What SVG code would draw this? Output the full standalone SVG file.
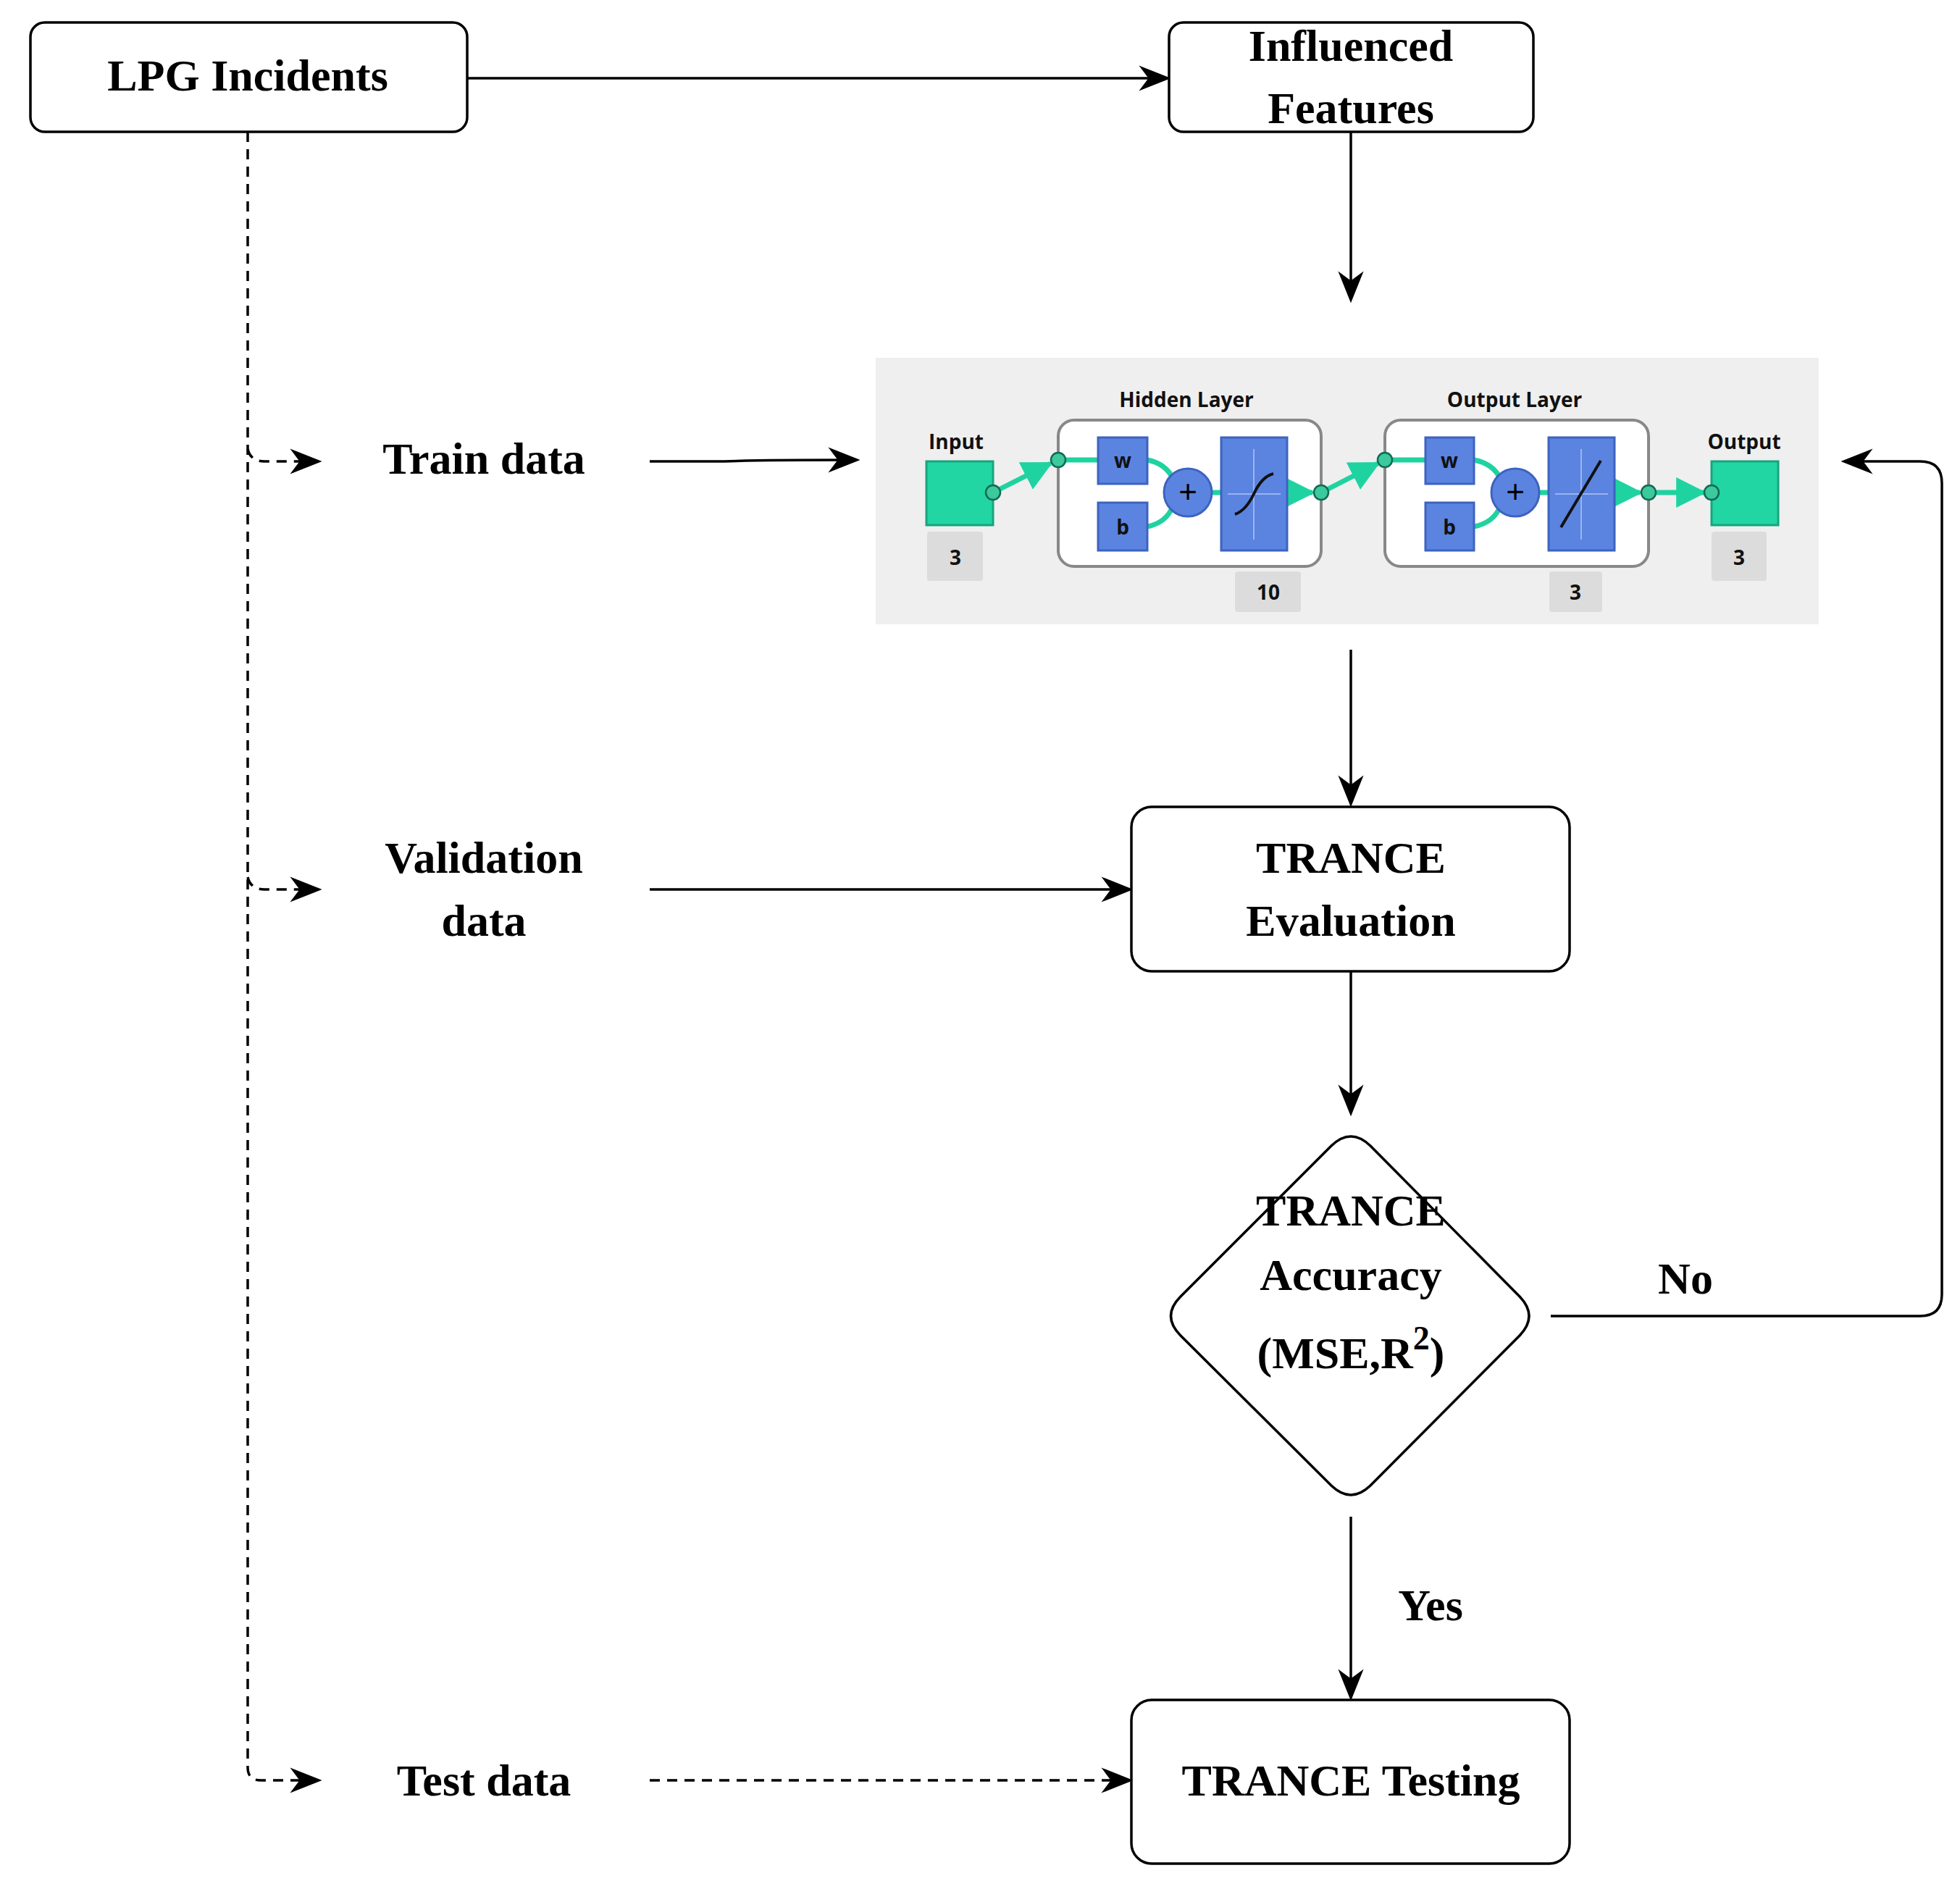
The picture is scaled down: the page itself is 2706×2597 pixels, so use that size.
<svg xmlns="http://www.w3.org/2000/svg" width="2706" height="2597" viewBox="0 0 2706 2597">
<defs>
<style>
.box{fill:#fff;stroke:#000;stroke-width:3.5}
.t{font-family:"Liberation Serif",serif;font-weight:bold;font-size:62px;text-anchor:middle;fill:#000}
.s{font-family:"Open Sans","Liberation Sans",sans-serif;font-weight:bold;font-size:28px;text-anchor:middle;fill:#111}
.ln{fill:none;stroke:#000;stroke-width:3.5}
.dash{stroke-dasharray:14 10}
.g{fill:none;stroke:#1fd3a0;stroke-width:7}
.blue{fill:#5b84e0;stroke:#3d63c0;stroke-width:3}
.nd{fill:#3cc99c;stroke:#116a55;stroke-width:2.5}
.gray{fill:#dcdcdc}
.lay{fill:#fff;stroke:#888;stroke-width:4}
</style>
<marker id="a" viewBox="0 0 20 20" refX="18" refY="10" markerWidth="12" markerHeight="12" markerUnits="userSpaceOnUse" orient="auto"><path d="M0,0 L20,10 L0,20 L6,10 Z" fill="#000"/></marker>
<marker id="A" viewBox="0 0 20 20" refX="18" refY="10" markerWidth="44" markerHeight="44" markerUnits="userSpaceOnUse" orient="auto"><path d="M0,2 L20,10 L0,18 L6,10 Z" fill="#000"/></marker>
<marker id="ga" viewBox="0 0 10 10" refX="9" refY="5" markerWidth="6" markerHeight="6" orient="auto"><path d="M0,0 L10,5 L0,10 Z" fill="#1fd3a0"/></marker>
</defs>
<rect width="2706" height="2597" fill="#fff"/>

<g id="connectors">
<path class="ln" d="M645,108 H1612" marker-end="url(#A)"/>
<path class="ln" d="M1865,182 V414" marker-end="url(#A)"/>
<path class="ln" d="M897,637 H1000 Q1050,635 1183,635" marker-end="url(#A)"/>
<path class="ln" d="M1865,897 V1110" marker-end="url(#A)"/>
<path class="ln" d="M897,1228 H1560" marker-end="url(#A)"/>
<path class="ln" d="M1865,1341 V1537" marker-end="url(#A)"/>
<path class="ln" d="M2141,1817 H2651 Q2681,1817 2681,1787 V667 Q2681,637 2651,637 H2546" marker-end="url(#A)"/>
<path class="ln" d="M1865,2094 V2344" marker-end="url(#A)"/>
<path class="ln dash" d="M897,2458 H1560" marker-end="url(#A)"/>
<path class="ln dash" d="M342,182 V2440 Q342,2458 360,2458 H440" marker-end="url(#A)"/>
<path class="ln dash" d="M342,620 Q346,637 365,637 H440" marker-end="url(#A)"/>
<path class="ln dash" d="M342,1211 Q346,1228 365,1228 H440" marker-end="url(#A)"/>
</g>

<g id="lpg"><rect class="box" x="42" y="31" width="603" height="151" rx="20"/><text class="t" x="342" y="125">LPG Incidents</text></g>
<g id="influenced"><rect class="box" x="1614" y="31" width="503" height="151" rx="20"/><text class="t" x="1865" y="84">Influenced</text><text class="t" x="1865" y="170">Features</text></g>

<g id="train"><text class="t" x="668" y="654">Train data</text></g>
<g id="validation"><text class="t" x="668" y="1205">Validation</text><text class="t" x="668" y="1292">data</text></g>
<g id="test"><text class="t" x="668" y="2479">Test data</text></g>

<g id="network">
<rect x="1209" y="494" width="1302" height="368" fill="#efefef"/>
<text class="s" x="1320" y="620">Input</text>
<rect x="1279" y="637" width="92" height="88" fill="#22d6a3" stroke="#16a57e" stroke-width="3"/>
<rect class="gray" x="1280" y="734" width="77" height="68" rx="4"/><text class="s" x="1319" y="780">3</text>
<text class="s" x="1638" y="562">Hidden Layer</text>
<rect class="lay" x="1461" y="580" width="363" height="202" rx="22"/>
<rect class="gray" x="1705" y="789" width="91" height="56" rx="4"/><text class="s" x="1751" y="828">10</text>
<text class="s" x="2091" y="562">Output Layer</text>
<rect class="lay" x="1912" y="580" width="364" height="202" rx="22"/>
<rect class="gray" x="2139" y="789" width="73" height="56" rx="4"/><text class="s" x="2175" y="828">3</text>
<text class="s" x="2408" y="620">Output</text>
<rect x="2363" y="637" width="92" height="88" fill="#22d6a3" stroke="#16a57e" stroke-width="3"/>
<rect class="gray" x="2363" y="734" width="76" height="68" rx="4"/><text class="s" x="2401" y="780">3</text>
<path class="g" d="M1371,680 L1450,640" marker-end="url(#ga)"/>
<path class="g" d="M1461,635 H1516 M1584,635 Q1610,640 1620,662 M1584,727 Q1610,722 1620,698 M1673,680 H1686 M1777,680 H1812" marker-end="url(#ga)"/>
<path class="g" d="M1824,680 L1902,640" marker-end="url(#ga)"/>
<path class="g" d="M1912,635 H1968 M2035,635 Q2062,640 2072,662 M2035,727 Q2062,722 2072,698 M2125,680 H2138 M2229,680 H2264" marker-end="url(#ga)"/>
<path class="g" d="M2276,680 H2352" marker-end="url(#ga)"/>
<rect class="blue" x="1516" y="604" width="68" height="64"/><text class="s" x="1550" y="646" fill="#000">w</text>
<rect class="blue" x="1516" y="694" width="68" height="66"/><text class="s" x="1550" y="738" fill="#000">b</text>
<circle class="blue" cx="1640" cy="680" r="33"/><text x="1640" y="694" font-family="Liberation Sans,sans-serif" font-size="44" text-anchor="middle">+</text>
<rect class="blue" x="1686" y="604" width="91" height="156"/>
<path d="M1731,620 V745 M1695,682 H1768" stroke="#9bb4f0" stroke-width="2"/>
<path d="M1705,710 Q1720,705 1731,682 Q1742,658 1758,654" fill="none" stroke="#111" stroke-width="4"/>
<rect class="blue" x="1968" y="604" width="67" height="64"/><text class="s" x="2001" y="646" fill="#000">w</text>
<rect class="blue" x="1968" y="694" width="67" height="66"/><text class="s" x="2001" y="738" fill="#000">b</text>
<circle class="blue" cx="2092" cy="680" r="33"/><text x="2092" y="694" font-family="Liberation Sans,sans-serif" font-size="44" text-anchor="middle">+</text>
<rect class="blue" x="2138" y="604" width="91" height="156"/>
<path d="M2183,620 V745 M2147,682 H2220" stroke="#9bb4f0" stroke-width="2"/>
<path d="M2155,728 L2210,636" stroke="#111" stroke-width="4"/>
<circle class="nd" cx="1371" cy="680" r="10"/><circle class="nd" cx="1461" cy="635" r="10"/>
<circle class="nd" cx="1824" cy="680" r="10"/><circle class="nd" cx="1912" cy="635" r="10"/>
<circle class="nd" cx="2276" cy="680" r="10"/><circle class="nd" cx="2363" cy="680" r="10"/>
</g>

<g id="evaluation"><rect class="box" x="1562" y="1114" width="605" height="227" rx="28"/><text class="t" x="1865" y="1205">TRANCE</text><text class="t" x="1865" y="1292">Evaluation</text></g>

<g id="accuracy">
<path class="box" d="M1838,1582 Q1865,1556 1892,1582 L2098,1790 Q2124,1817 2098,1844 L1892,2051 Q1865,2077 1838,2051 L1630,1844 Q1603,1817 1630,1790 Z"/>
<text class="t" x="1865" y="1692">TRANCE</text>
<text class="t" x="1865" y="1781">Accuracy</text>
<text class="t" x="1865" y="1889">(MSE,R<tspan dy="-26" font-size="46">2</tspan><tspan dy="26">)</tspan></text>
</g>
<g id="no"><text class="t" x="2327" y="1786">No</text></g>
<g id="yes"><text class="t" x="1975" y="2237">Yes</text></g>

<g id="testing"><rect class="box" x="1562" y="2347" width="605" height="226" rx="28"/><text class="t" x="1865" y="2479">TRANCE Testing</text></g>
</svg>
